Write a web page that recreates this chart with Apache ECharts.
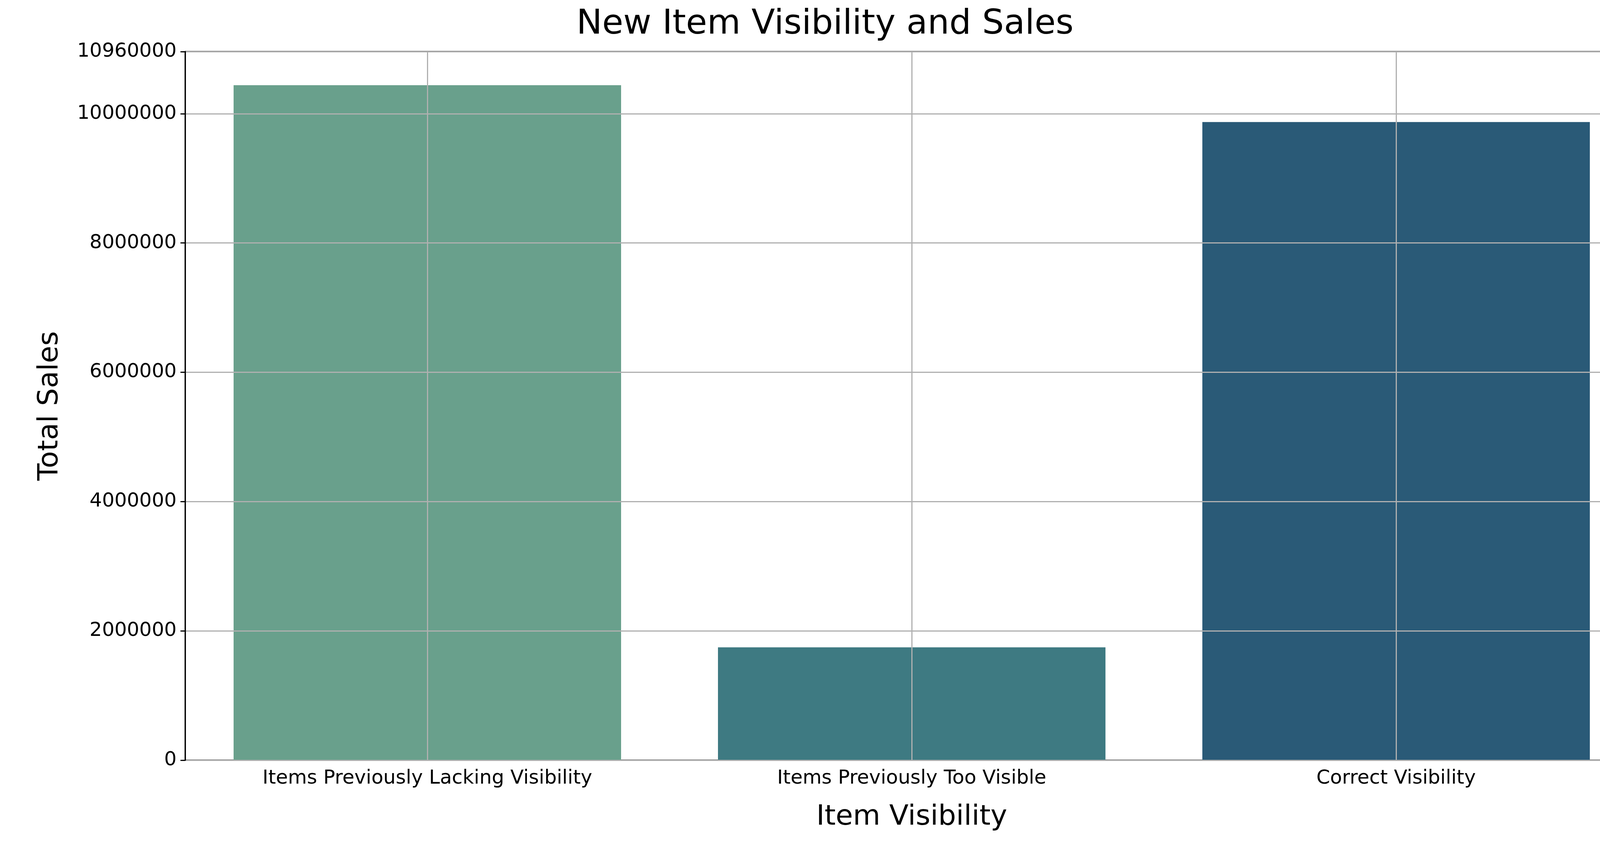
<!DOCTYPE html>
<html>
<head>
<meta charset="utf-8">
<script src="https://cdn.jsdelivr.net/npm/echarts@6/dist/echarts.min.js"></script>
<style>html,body{margin:0;padding:0;background:#fff}#main{width:4224px;height:2162px}</style>
</head>
<body>
<div id="main"></div>
<script>
var categories = ['Items Previously Lacking Visibility', 'Items Previously Too Visible', 'Correct Visibility'];
var sales = [10440000, 1745000, 9870000];
var barColors = ['#69a08c', '#3e7a82', '#2a5a77'];
var gridSlots = ['', 'a', '', 'b', '', 'c', ''];

var chart = echarts.init(document.getElementById('main'));
var font = 'DejaVu Sans';
var option = {
	backgroundColor: '#fff',
	title: {
		text: 'New Item Visibility and Sales',
		left: 'center', top: 14,
		textStyle: {fontFamily: font, fontSize: 88, fontWeight: 'normal', color: '#000'}
	},
	grid: {left: 474, right: 30, top: 132, bottom: 217, show: true, borderColor: '#000', borderWidth: 3, backgroundColor: 'transparent'},
	xAxis: [{
		type: 'category',
		data: categories,
		name: 'Item Visibility',
		nameLocation: 'middle',
		nameGap: 110,
		nameTextStyle: {fontFamily: font, fontSize: 72, color: '#000'},
		axisLine: {lineStyle: {color: '#000', width: 3}},
		axisTick: {alignWithLabel: true, length: 12, lineStyle: {color: '#000', width: 3}},
		axisLabel: {fontFamily: font, fontSize: 50, color: '#000', margin: 22},
		splitLine: {show: false}
	}, {
		type: 'category',
		data: gridSlots,
		boundaryGap: false,
		position: 'bottom',
		z: 5,
		axisLine: {show: false}, axisTick: {show: false}, axisLabel: {show: false},
		splitLine: {show: true, interval: function (i) { return i % 2 === 1; }, lineStyle: {color: '#b0b0b0', width: 3}}
	}],
	yAxis: {
		type: 'value',
		min: 0, max: 10960000, interval: 2000000,
		z: 5,
		name: 'Total Sales',
		nameLocation: 'middle',
		nameGap: 310,
		nameTextStyle: {fontFamily: font, fontSize: 72, color: '#000'},
		axisLine: {show: true, lineStyle: {color: '#000', width: 3}},
		axisTick: {show: true, length: 12, lineStyle: {color: '#000', width: 3}},
		axisLabel: {fontFamily: font, fontSize: 50, color: '#000', margin: 22, formatter: function (v) { return String(v); }},
		splitLine: {show: true, lineStyle: {color: '#b0b0b0', width: 3}}
	},
	series: [{
		type: 'bar',
		barWidth: '80%',
		xAxisIndex: 0,
		data: sales.map(function (v, i) { return {value: v, itemStyle: {color: barColors[i]}}; })
	}]
};
chart.setOption(option);
</script>
</body>
</html>
